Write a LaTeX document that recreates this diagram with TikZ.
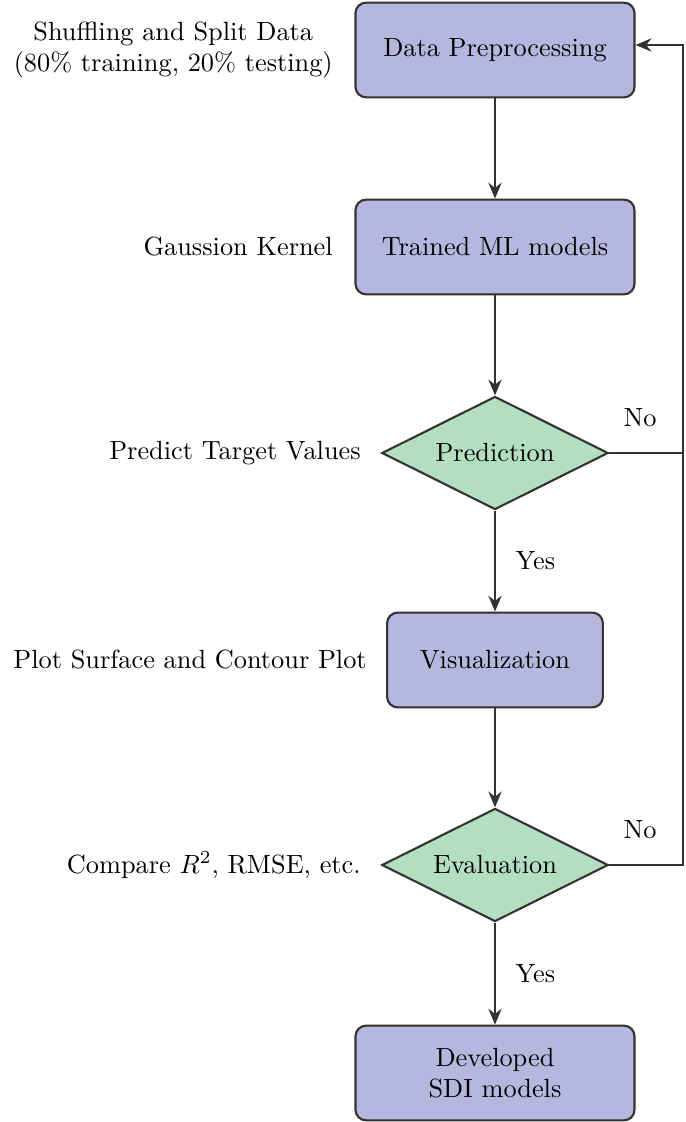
\documentclass[tikz,border=0pt]{standalone}
\usetikzlibrary{shapes.geometric,arrows.meta}
\definecolor{boxblue}{RGB}{181,183,223}
\definecolor{diagreen}{RGB}{180,222,192}
\definecolor{edge}{RGB}{50,50,50}
\begin{document}
\begin{tikzpicture}[x=0.38pt,y=-0.38pt,
    font=\fontsize{10}{12}\selectfont,
    proc/.style={draw=edge,line width=0.8pt,fill=boxblue,rounded corners=4pt,align=center},
    dec/.style={draw=edge,line width=0.8pt,fill=diagreen,diamond,aspect=2,inner sep=1pt},
    lab/.style={anchor=east,align=center},
    arr/.style={-{Stealth[length=6pt,width=5pt]},line width=1pt,draw=edge}
]
    \useasboundingbox (0,0) rectangle (685,1122);
    \node[proc,minimum width=106pt,minimum height=36pt] (prep) at (495,50) {Data Preprocessing};
    \node[proc,minimum width=106pt,minimum height=36pt] (train) at (495,247) {Trained ML models};
    \node[dec,minimum width=86pt,minimum height=43pt] (pred) at (495,453) {Prediction};
    \node[proc,minimum width=82pt,minimum height=36pt] (vis) at (495,660) {Visualization};
    \node[dec,minimum width=86pt,minimum height=43pt] (eval) at (495,865) {Evaluation};
    \node[proc,minimum width=106pt,minimum height=36pt] (dev) at (495,1073) {Developed\\SDI models};

    \node[lab] (l1) at (342,50) {Shuffling and Split Data\\(80\% training, 20\% testing)};
    \node[lab] (l2) at (342,247) {Gaussion Kernel};
    \node[lab] (l3) at (370,453) {Predict Target Values};
    \node[lab] (l4) at (376,660) {Plot Surface and Contour Plot};
    \node[lab] (l5) at (370,865) {Compare $R^2$, RMSE, etc.};

    \coordinate (r1) at (683,453);
    \coordinate (r2) at (683,865);
    \coordinate (r0) at (683,45);

    \draw[arr] (prep) -- (train);
    \draw[arr] (train) -- (pred);
    \draw[arr] (pred) -- node[right=4pt] (y1) {Yes} (vis);
    \draw[arr] (vis) -- (eval);
    \draw[arr] (eval) -- node[right=4pt] (y2) {Yes} (dev);
    \draw[line width=1pt,draw=edge] (pred.east) -- (r1);
    \draw[arr] (eval.east) -- (r2) -- (r0) -- (prep.east |- r0);
    \node (n1) at (640,418) {No};
    \node (n2) at (640,830) {No};
\end{tikzpicture}
\end{document}
